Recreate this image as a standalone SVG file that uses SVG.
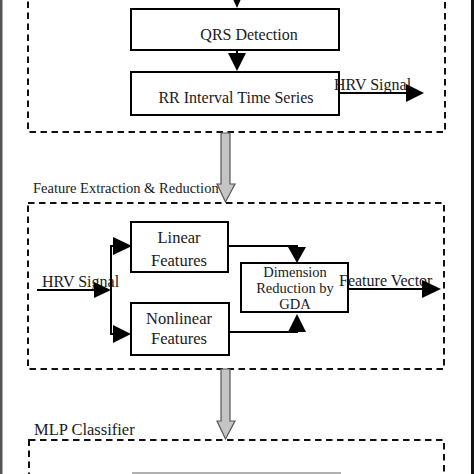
<svg xmlns="http://www.w3.org/2000/svg" width="474" height="474" viewBox="0 0 474 474">
<style>
  .box { fill: #fff; stroke: #000; stroke-width: 2; }
  .dash { fill: none; stroke: #111; stroke-width: 2; stroke-dasharray: 6.5 4.5; }
  .t { font-family: "Liberation Serif", "Times New Roman", serif; fill: #1a1a1a; }
  .c { text-anchor: middle; }
  .ln { fill: none; stroke: #000; stroke-width: 2; }
  .ah { fill: #000; stroke: none; }
  .big { fill: #c4c4c4; stroke: #555; stroke-width: 1.2; }
</style>
<rect x="0" y="0" width="474" height="474" fill="#fff"/>
<rect x="0" y="0" width="2.5" height="474" fill="#555"/>
<rect x="471" y="0" width="3" height="474" fill="#111"/>

<g id="stage-preprocessing">
  <rect class="dash" x="28" y="-10" width="417" height="142"/>
</g>
<g id="stage-feature">
  <rect class="dash" x="28" y="203" width="416" height="166"/>
  <text class="t" x="33" y="193" font-size="14.5">Feature Extraction &amp; Reduction</text>
</g>
<g id="stage-mlp">
  <rect class="dash" x="29" y="440" width="415" height="50"/>
  <text class="t" x="34" y="435" font-size="16.5">MLP Classifier</text>
  <rect x="132" y="472" width="209" height="3" fill="#b0b0b0"/>
</g>

<g id="qrs">
  <rect class="box" x="131" y="9" width="208" height="41"/>
  <text class="t c" x="249" y="40" font-size="16">QRS Detection</text>
</g>
<g id="rr">
  <rect class="box" x="131" y="72" width="208" height="43"/>
  <text class="t c" x="236" y="103" font-size="16">RR Interval Time Series</text>
</g>
<g id="linear">
  <rect class="box" x="131" y="222" width="97" height="50"/>
  <text class="t c" x="179" y="243" font-size="16.5">Linear</text>
  <text class="t c" x="179" y="266" font-size="16.5">Features</text>
</g>
<g id="nonlinear">
  <rect class="box" x="131" y="303" width="98" height="52"/>
  <text class="t c" x="179" y="324" font-size="16.5">Nonlinear</text>
  <text class="t c" x="179" y="344" font-size="16.5">Features</text>
</g>
<g id="gda">
  <rect class="box" x="241" y="263" width="107" height="49"/>
  <text class="t c" x="295" y="277" font-size="14.5">Dimension</text>
  <text class="t c" x="295" y="293" font-size="14.5">Reduction by</text>
  <text class="t c" x="295" y="309" font-size="14.5">GDA</text>
</g>

<g id="connectors">
  <text class="t" x="334" y="90" font-size="16">HRV Signal</text>
  <text class="t" x="42" y="287" font-size="16">HRV Signal</text>
  <text class="t" x="339" y="286" font-size="16">Feature Vector</text>
  <!-- into QRS from above -->
  <polygon class="ah" points="229,-10 245,-10 237,8"/>
  <!-- QRS to RR -->
  <line class="ln" x1="237" y1="50" x2="237" y2="54"/>
  <polygon class="ah" points="228,53 246,53 237,71"/>
  <!-- RR output -->
  <line class="ln" x1="339" y1="93" x2="408" y2="93"/>
  <polygon class="ah" points="406,84 406,102 424,93"/>
  <!-- HRV input -->
  <line class="ln" x1="37" y1="290" x2="96" y2="290"/>
  <polygon class="ah" points="94,282 94,298 111,290"/>
  <line class="ln" x1="111" y1="245" x2="111" y2="334"/>
  <line class="ln" x1="110" y1="246" x2="115" y2="246"/>
  <polygon class="ah" points="113,237 113,255 132,246"/>
  <line class="ln" x1="110" y1="334" x2="115" y2="334"/>
  <polygon class="ah" points="113,325 113,343 131,334"/>
  <!-- Linear to GDA -->
  <polyline class="ln" points="228,246 297,246 297,250"/>
  <polygon class="ah" points="288,247 306,247 297,263"/>
  <!-- Nonlinear to GDA -->
  <polyline class="ln" points="229,332 297,332 297,328"/>
  <polygon class="ah" points="288,332 306,332 297,314"/>
  <!-- Feature vector output -->
  <line class="ln" x1="348" y1="289" x2="425" y2="289"/>
  <polygon class="ah" points="422,280 422,298 441,289"/>
  <!-- big gray arrows -->
  <polygon class="big" points="221,133 230,133 230,184 235,184 225.5,202 217,184 221,184"/>
  <polygon class="big" points="221,369 230,369 230,421 235,421 225.5,439 217,421 221,421"/>
</g>
</svg>
